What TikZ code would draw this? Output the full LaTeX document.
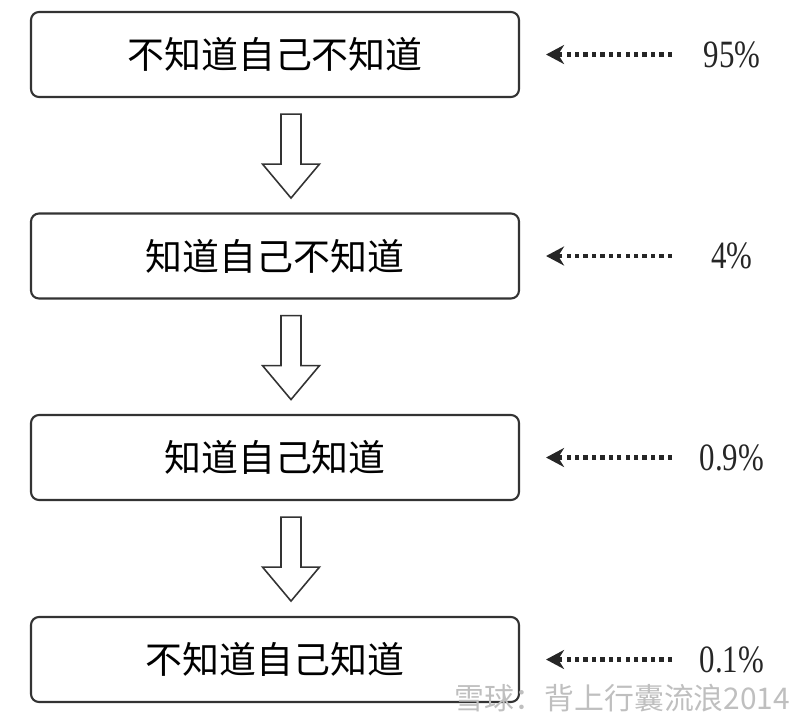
\documentclass[tikz,border=0pt]{standalone}
\usepackage{fontspec}
\usepackage{graphicx}
\newfontfamily\cjk{Noto Sans CJK SC}
\newfontfamily\numfont{Liberation Serif}
\usetikzlibrary{arrows.meta}

\newcommand\pct[1]{\scalebox{0.8}[1]{#1}}

\tikzset{
  stage/.style={draw=black!80,line width=1.2pt,rounded corners=0.16cm,
    minimum width=9.76cm,minimum height=1.7cm,
    font=\cjk\fontsize{21pt}{25pt}\selectfont},
  hollow/.style={draw=black!80,line width=0.9pt,fill=white,line join=miter},
  ptr/.style={draw=black!85,line width=2.4pt,dash pattern=on 2.4pt off 2.4pt,
    -{Stealth[length=0.36cm,width=0.38cm]},shorten >=0.52cm},
  share/.style={inner sep=0pt,text=black!85,font=\numfont\fontsize{22pt}{26pt}\selectfont},
  stamp/.style={inner sep=0pt,text=black!25,font=\cjk\fontsize{17pt}{20pt}\selectfont}
}

\begin{document}
\begin{tikzpicture}
\useasboundingbox (0,0) rectangle (16,-14.34);

\node[stage] (b1) at (5.5,-1.09) {不知道自己不知道};
\node[stage] (b2) at (5.5,-5.12) {知道自己不知道};
\node[stage] (b3) at (5.5,-9.15) {知道自己知道};
\node[stage] (b4) at (5.5,-13.19) {不知道自己知道};

\foreach \i in {1,2,3}
  \draw[hollow] ([xshift=0.32cm,yshift=-0.32cm]b\i.south) -- ++(-0.2,0) -- ++(0,-1)
    -- ++(-0.37,0) -- ++(0.57,-0.68) -- ++(0.57,0.68) -- ++(-0.37,0) -- ++(0,1) -- cycle;

\node[share] (p1) at (14.64,-1.09) {\pct{95\%}};
\node[share] (p2) at (14.64,-5.12) {\pct{4\%}};
\node[share] (p3) at (14.64,-9.15) {\pct{0.9\%}};
\node[share] (p4) at (14.64,-13.19) {\pct{0.1\%}};

\coordinate (t1) at (13.44,-1.09);
\coordinate (t2) at (13.44,-5.12);
\coordinate (t3) at (13.44,-9.15);
\coordinate (t4) at (13.44,-13.19);
\draw[ptr] (t1) -- (b1.east);
\draw[ptr] (t2) -- (b2.east);
\draw[ptr] (t3) -- (b3.east);
\draw[ptr] (t4) -- (b4.east);

\node[stamp] (wm) at (12.45,-13.96) {雪球：背上行囊流浪2014};
\end{tikzpicture}
\end{document}
